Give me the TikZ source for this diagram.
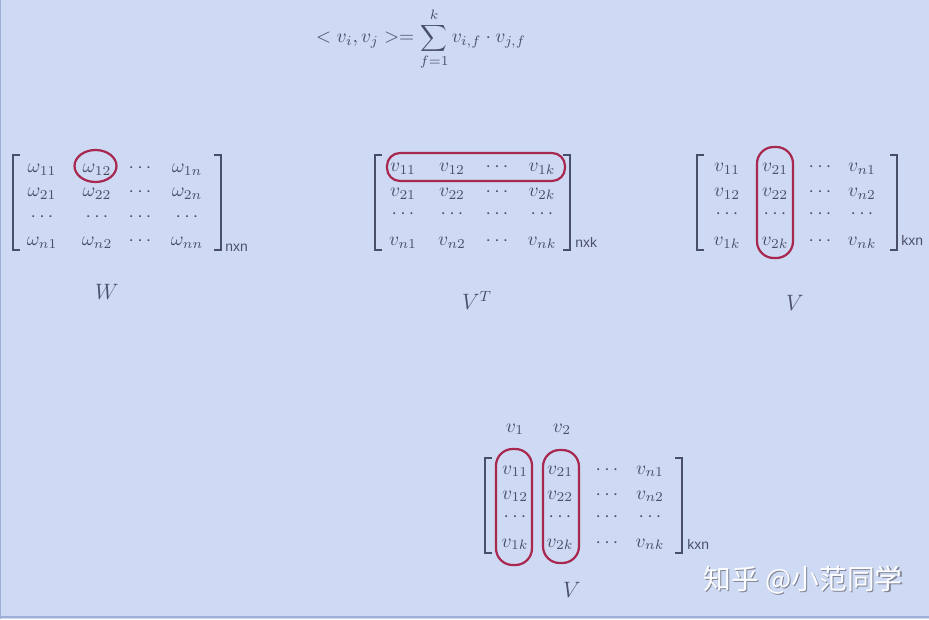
\RequirePackage{fix-cm}
\documentclass[tikz,border=0pt]{standalone}
\usepackage{fontspec}
\newfontfamily\cjk{Noto Sans CJK SC}
\newfontfamily\lsans{Liberation Sans}
\definecolor{bg}{HTML}{CED9F4}
\definecolor{ink}{HTML}{4A4F68}
\definecolor{hl}{HTML}{A8284F}
\definecolor{edge}{HTML}{9FB0D8}
\begin{document}
\begin{tikzpicture}[x=0.54pt,y=-0.54pt,
  ent/.style={text=ink,font=\fontsize{10.5}{12}\selectfont,inner sep=0pt,text height=1.3ex,text depth=.3ex},
  lab/.style={text=ink,font=\fontsize{12}{14}\selectfont,inner sep=0pt},
  dimlab/.style={text=ink,font=\lsans\fontsize{7.5}{9}\selectfont,inner sep=0pt,anchor=base west},
  brack/.style={draw=ink,line width=0.8pt},
  hilite/.style={draw=hl,line width=1.2pt}]
\fill[bg] (0,0) rectangle (929,619);
\useasboundingbox (0,0) rectangle (929,619);
\draw[edge,line width=1pt] (0,617) -- (929,617);
\draw[edge,line width=1pt] (0.5,0) -- (0.5,619);

% formula
\node[text=ink,font=\fontsize{10.5}{12}\selectfont,inner sep=0pt] (formula) at (421,39)
  {$\displaystyle <v_i,v_j>=\sum_{f=1}^{k} v_{i,f}\cdot v_{j,f}$};

% ---------- W ----------
\foreach \e/\x [count=\c] in {\omega_{11}/42,\omega_{12}/97,\cdots/140,\omega_{1n}/187}
  \node[ent] (W-1-\c) at (\x,169) {$\e$};
\foreach \e/\x [count=\c] in {\omega_{21}/42,\omega_{22}/97,\cdots/140,\omega_{2n}/187}
  \node[ent] (W-2-\c) at (\x,193) {$\e$};
\foreach \x [count=\c] in {42,97,140,187}
  \node[ent] (W-3-\c) at (\x,218) {$\cdots$};
\foreach \e/\x [count=\c] in {\omega_{n1}/42,\omega_{n2}/97,\cdots/140,\omega_{nn}/187}
  \node[ent] (W-4-\c) at (\x,242) {$\e$};
\draw[brack] (20,155) -- (13,155) -- (13,250) -- (20,250);
\draw[brack] (214,155) -- (221,155) -- (221,250) -- (214,250);
\node[dimlab] (Wdim) at (225,251) {nxn};
\node[lab] (Wlab) at (107,292) {$W$};
\draw[hilite] (95.5,166) ellipse [x radius=21, y radius=16];

% ---------- V^T ----------
\foreach \e/\x [count=\c] in {v_{11}/403,v_{12}/452,\cdots/497,v_{1k}/542}
  \node[ent] (VT-1-\c) at (\x,168) {$\e$};
\foreach \e/\x [count=\c] in {v_{21}/403,v_{22}/452,\cdots/497,v_{2k}/542}
  \node[ent] (VT-2-\c) at (\x,193) {$\e$};
\foreach \x [count=\c] in {403,452,497,542}
  \node[ent] (VT-3-\c) at (\x,215) {$\cdots$};
\foreach \e/\x [count=\c] in {v_{n1}/403,v_{n2}/452,\cdots/497,v_{nk}/542}
  \node[ent] (VT-4-\c) at (\x,242) {$\e$};
\draw[brack] (382,155) -- (375,155) -- (375,250) -- (382,250);
\draw[brack] (563,155) -- (570,155) -- (570,250) -- (563,250);
\node[dimlab] (VTdim) at (575,247) {nxk};
\node[lab] (VTlab) at (477,300) {$V^T$};
\draw[hilite,rounded corners=7] (387,153) rectangle (565,181);

% ---------- V ----------
\foreach \e/\x [count=\c] in {v_{11}/727,v_{21}/775,\cdots/820,v_{n1}/862}
  \node[ent] (V-1-\c) at (\x,168) {$\e$};
\foreach \e/\x [count=\c] in {v_{12}/727,v_{22}/775,\cdots/820,v_{n2}/862}
  \node[ent] (V-2-\c) at (\x,193) {$\e$};
\foreach \x [count=\c] in {727,775,820,862}
  \node[ent] (V-3-\c) at (\x,215) {$\cdots$};
\foreach \e/\x [count=\c] in {v_{1k}/727,v_{2k}/775,\cdots/820,v_{nk}/862}
  \node[ent] (V-4-\c) at (\x,242) {$\e$};
\draw[brack] (704,155) -- (697,155) -- (697,250) -- (704,250);
\draw[brack] (890,155) -- (897,155) -- (897,250) -- (890,250);
\node[dimlab] (Vdim) at (901,245) {kxn};
\node[lab] (Vlab) at (795,303) {$V$};
\draw[hilite,rounded corners=9] (757,147) rectangle (793,258);

% ---------- bottom V ----------
\node[ent] (v1) at (515,428) {$v_1$};
\node[ent] (v2) at (562,428) {$v_2$};
\foreach \e/\x [count=\c] in {v_{11}/515,v_{21}/560,\cdots/607,v_{n1}/650}
  \node[ent] (B-1-\c) at (\x,470) {$\e$};
\foreach \e/\x [count=\c] in {v_{12}/515,v_{22}/560,\cdots/607,v_{n2}/650}
  \node[ent] (B-2-\c) at (\x,495) {$\e$};
\foreach \x [count=\c] in {515,560,607,650}
  \node[ent] (B-3-\c) at (\x,517) {$\cdots$};
\foreach \e/\x [count=\c] in {v_{1k}/515,v_{2k}/560,\cdots/607,v_{nk}/650}
  \node[ent] (B-4-\c) at (\x,543) {$\e$};
\draw[brack] (492,458) -- (485,458) -- (485,553) -- (492,553);
\draw[brack] (675,458) -- (682,458) -- (682,553) -- (675,553);
\node[dimlab] (Bdim) at (687,549) {kxn};
\node[lab] (Blab) at (572,590) {$V$};
\draw[hilite,rounded corners=9] (496,449) rectangle (532,565);
\draw[hilite,rounded corners=9] (543,450) rectangle (579,563);

% watermark
\node[text=ink!70,font=\cjk\fontsize{15}{17}\selectfont,inner sep=0pt] (wm-shadow) at (804.5,581.5) {知乎 @小范同学};
\node[text=white!95!bg,font=\cjk\fontsize{15}{17}\selectfont,inner sep=0pt] (wm) at (803,580) {知乎 @小范同学};
\end{tikzpicture}
\end{document}
